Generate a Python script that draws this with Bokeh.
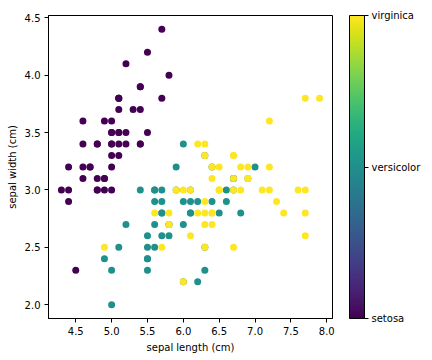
from bokeh.plotting import figure
from bokeh.models import (ColumnDataSource, LinearColorMapper, ColorBar, FixedTicker,
                          Range1d, PrintfTickFormatter)
from bokeh.palettes import Viridis256
from bokeh.transform import transform
from bokeh.embed import file_html
from bokeh.resources import INLINE

sepal_length = [
    5.1, 4.9, 4.7, 4.6, 5.0, 5.4, 4.6, 5.0, 4.4, 4.9, 5.4, 4.8, 4.8, 4.3, 5.8, 5.7, 5.4, 5.1, 5.7, 5.1,
    5.4, 5.1, 4.6, 5.1, 4.8, 5.0, 5.0, 5.2, 5.2, 4.7, 4.8, 5.4, 5.2, 5.5, 4.9, 5.0, 5.5, 4.9, 4.4, 5.1,
    5.0, 4.5, 4.4, 5.0, 5.1, 4.8, 5.1, 4.6, 5.3, 5.0,
    7.0, 6.4, 6.9, 5.5, 6.5, 5.7, 6.3, 4.9, 6.6, 5.2, 5.0, 5.9, 6.0, 6.1, 5.6, 6.7, 5.6, 5.8, 6.2, 5.6,
    5.9, 6.1, 6.3, 6.1, 6.4, 6.6, 6.8, 6.7, 6.0, 5.7, 5.5, 5.5, 5.8, 6.0, 5.4, 6.0, 6.7, 6.3, 5.6, 5.5,
    5.5, 6.1, 5.8, 5.0, 5.6, 5.7, 5.7, 6.2, 5.1, 5.7,
    6.3, 5.8, 7.1, 6.3, 6.5, 7.6, 4.9, 7.3, 6.7, 7.2, 6.5, 6.4, 6.8, 5.7, 5.8, 6.4, 6.5, 7.7, 7.7, 6.0,
    6.9, 5.6, 7.7, 6.3, 6.7, 7.2, 6.2, 6.1, 6.4, 7.2, 7.4, 7.9, 6.4, 6.3, 6.1, 7.7, 6.3, 6.4, 6.0, 6.9,
    6.7, 6.9, 5.8, 6.8, 6.7, 6.7, 6.3, 6.5, 6.2, 5.9,
]
sepal_width = [
    3.5, 3.0, 3.2, 3.1, 3.6, 3.9, 3.4, 3.4, 2.9, 3.1, 3.7, 3.4, 3.0, 3.0, 4.0, 4.4, 3.9, 3.5, 3.8, 3.8,
    3.4, 3.7, 3.6, 3.3, 3.4, 3.0, 3.4, 3.5, 3.4, 3.2, 3.1, 3.4, 4.1, 4.2, 3.1, 3.2, 3.5, 3.6, 3.0, 3.4,
    3.5, 2.3, 3.2, 3.5, 3.8, 3.0, 3.8, 3.2, 3.7, 3.3,
    3.2, 3.2, 3.1, 2.3, 2.8, 2.8, 3.3, 2.4, 2.9, 2.7, 2.0, 3.0, 2.2, 2.9, 2.9, 3.1, 3.0, 2.7, 2.2, 2.5,
    3.2, 2.8, 2.5, 2.8, 2.9, 3.0, 2.8, 3.0, 2.9, 2.6, 2.4, 2.4, 2.7, 2.7, 3.0, 3.4, 3.1, 2.3, 3.0, 2.5,
    2.6, 3.0, 2.6, 2.3, 2.7, 3.0, 2.9, 2.9, 2.5, 2.8,
    3.3, 2.7, 3.0, 2.9, 3.0, 3.0, 2.5, 2.9, 2.5, 3.6, 3.2, 2.7, 3.0, 2.5, 2.8, 3.2, 3.0, 3.8, 2.6, 2.2,
    3.2, 2.8, 2.8, 2.7, 3.3, 3.2, 2.8, 3.0, 2.8, 3.0, 2.8, 3.8, 2.8, 2.8, 2.6, 3.0, 3.4, 3.1, 3.0, 3.1,
    3.1, 3.1, 2.7, 3.2, 3.3, 3.0, 2.5, 3.0, 3.4, 3.0,
]
target = [0] * 50 + [1] * 50 + [2] * 50
species_names = ["setosa", "versicolor", "virginica"]
x_ticks = [4.5, 5.0, 5.5, 6.0, 6.5, 7.0, 7.5, 8.0]
y_ticks = [2.0, 2.5, 3.0, 3.5, 4.0, 4.5]

source = ColumnDataSource(dict(x=sepal_length, y=sepal_width, t=target))
mapper = LinearColorMapper(palette=Viridis256, low=0, high=2)

FONT = "DejaVu Sans"

p = figure(width=432, height=360, output_backend="svg", toolbar_location=None,
           x_range=Range1d(4.12, 8.08), y_range=Range1d(1.88, 4.52),
           min_border_left=48, min_border_top=15, min_border_bottom=42, min_border_right=100)
p.background_fill_color = "white"
p.border_fill_color = "white"
p.outline_line_color = "black"
p.outline_line_width = 1
p.grid.visible = False

p.scatter("x", "y", source=source, size=7, line_color=None,
          fill_color=transform("t", mapper), fill_alpha=1.0)

p.xaxis.ticker = FixedTicker(ticks=x_ticks)
p.yaxis.ticker = FixedTicker(ticks=y_ticks)
p.xaxis.formatter = PrintfTickFormatter(format="%.1f")
p.yaxis.formatter = PrintfTickFormatter(format="%.1f")
p.xaxis.axis_label = "sepal length (cm)"
p.yaxis.axis_label = "sepal width (cm)"
for ax in (p.xaxis, p.yaxis):
    ax.axis_label_text_font = FONT
    ax.axis_label_text_font_size = "10px"
    ax.axis_label_text_font_style = "normal"
    ax.axis_label_text_color = "black"
    ax.major_label_text_font = FONT
    ax.major_label_text_font_size = "10px"
    ax.major_label_text_color = "black"
    ax.major_tick_out = 4
    ax.major_tick_in = 0
    ax.minor_tick_out = 0
    ax.minor_tick_in = 0
    ax.major_label_standoff = 4
    ax.axis_label_standoff = 4
    ax.axis_line_color = "black"
    ax.major_tick_line_color = "black"

color_bar = ColorBar(color_mapper=mapper, ticker=FixedTicker(ticks=[0, 1, 2]),
                     major_label_overrides={0: species_names[0], 1: species_names[1],
                                            2: species_names[2]},
                     width=15, height=303, padding=0, margin=0,
                     location=(301, 0),
                     major_tick_out=4, major_tick_in=0, major_tick_line_color="black",
                     minor_tick_line_color=None,
                     bar_line_color="black", bar_line_width=1,
                     major_label_text_font=FONT, major_label_text_font_size="10px",
                     major_label_text_color="black", label_standoff=3,
                     background_fill_color=None, border_line_color=None)
p.add_layout(color_bar, "center")

open("out.html", "w").write(file_html(p, INLINE))
